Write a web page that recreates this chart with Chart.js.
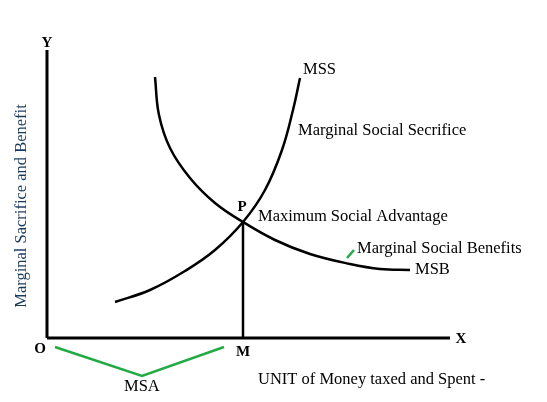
<!DOCTYPE html><html><head><style>html,body{margin:0;background:#fff}</style>
<script src="https://cdn.jsdelivr.net/npm/chart.js@4"></script></head><body>
<canvas id="c" width="547" height="402"></canvas>
<script>
const mssX=[115,150,185,215,243,265,282,293,300];
const mssY=[302,290,271,250,222,190,150,110,78];
const msbX=[155,159,170,190,215,243,275,310,350,380,410];
const msbY=[77,115,148,178,203,222,240,254,264,269,270];
const axisY=[[47,50],[47,338]];
const axisX=[[47,338],[450,338]];
const vline=[[243,222],[243,338]];
const msaLine=[[55,347],[142,376],[224,347]];
const tick=[[347,258],[354,250]];
const F="16.5px 'Liberation Serif'", B="bold 15px 'Liberation Serif'";
const labels=[
 ["Y",47,43,B,"center"],
 ["X",461,339,B,"center"],
 ["O",40,349,B,"center"],
 ["M",243,352,B,"center"],
 ["P",242,207,B,"center"],
 ["MSS",303,70,F,"left"],
 ["Marginal Social Secrifice",298,131,F,"left"],
 ["Maximum Social Advantage",258,217,F,"left"],
 ["Marginal Social Benefits",357,249,F,"left"],
 ["MSB",415,270,F,"left"],
 ["MSA",124,387,F,"left"],
 ["UNIT of Money taxed and Spent -",258,380,F,"left"]
];
const pts=(a)=>a.map(p=>({x:p[0],y:p[1]}));
const ln=(data,color,w,t)=>({data,borderColor:color,borderWidth:w,showLine:true,pointRadius:0,tension:t||0,fill:false});
new Chart(document.getElementById('c'),{type:'scatter',
data:{datasets:[
 ln(pts(axisY),'#000',3),ln(pts(axisX),'#000',3),ln(pts(vline),'#000',2.5),
 ln(mssX.map((x,i)=>({x,y:mssY[i]})),'#000',2.5,0.4),
 ln(msbX.map((x,i)=>({x,y:msbY[i]})),'#000',2.5,0.4),
 ln(pts(msaLine),'#22aa44',2.5),ln(pts(tick),'#22aa44',2.5)
]},
options:{responsive:false,animation:false,layout:{padding:0},
plugins:{legend:{display:false},tooltip:{enabled:false}},
scales:{x:{type:'linear',min:0,max:547,display:false},y:{type:'linear',min:0,max:402,reverse:true,display:false}}},
plugins:[{id:'t',afterDraw(ch){const c=ch.ctx;c.save();c.fillStyle='#000';c.textBaseline='middle';
 for(const l of labels){c.font=l[3];c.textAlign=l[4];c.fillText(l[0],l[1],l[2]);}
 c.translate(22,206);c.rotate(-Math.PI/2);c.font="16.5px 'Liberation Serif'";c.fillStyle='#1a3a5a';c.textAlign='center';
 c.fillText("Marginal Sacrifice and Benefit",0,0);c.restore();}}]
});
</script></body></html>
